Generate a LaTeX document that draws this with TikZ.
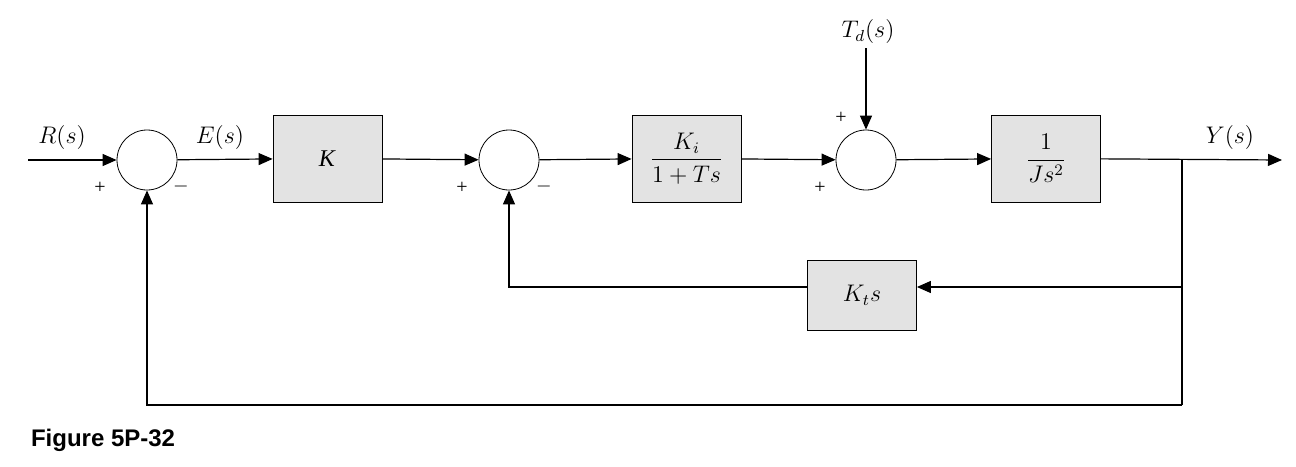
\documentclass[tikz,border=0pt]{standalone}
\usepackage{amsmath}
\usepackage{fontspec}
\setmainfont{Liberation Serif}
\newfontfamily\figfont{Liberation Sans}
\usetikzlibrary{arrows.meta}
\begin{document}
\begin{tikzpicture}[x=0.5pt,y=-0.5pt,
  blk/.style={draw,fill=black!11,minimum width=54.5pt,minimum height=43.5pt,inner sep=0pt,font=\large},
  sumj/.style={draw,circle,minimum size=30pt,inner sep=0pt},
  sig/.style={-{Triangle[length=7pt,width=6pt]},line width=0.6pt},
  ln/.style={line width=0.6pt},
  lbl/.style={font=\large}]
\useasboundingbox (0,0) rectangle (1296,466);
\node[sumj] (s1) at (147,160) {};
\node[sumj] (s2) at (509,160) {};
\node[sumj] (s3) at (866,160) {};
\node[blk] (K) at (327.5,158.5) {\textit{K}};
\node[blk] (G) at (686.5,158.5) {$\dfrac{K_i}{1+Ts}$};
\node[blk] (P) at (1046,158.5) {$\dfrac{1}{Js^2}$};
\node[blk,minimum height=35pt] (H) at (862,295) {$K_t s$};
\coordinate (in) at (28,160);
\coordinate (out) at (1282,160);
\coordinate (br) at (1182,160);
\coordinate (bh) at (1182,287);
\coordinate (bb) at (1182,405);
\coordinate (l1) at (147,405);
\coordinate (l2) at (509,287);
\coordinate (td) at (866,48);
\draw[sig] (in) -- (s1);
\draw[sig] (s1) -- (K);
\draw[sig] (K) -- (s2);
\draw[sig] (s2) -- (G);
\draw[sig] (G) -- (s3);
\draw[sig] (s3) -- (P);
\draw[sig] (P) -- (out);
\draw[sig] (td) -- (s3);
\draw[ln] (br) -- (bb);
\draw[sig] (bh) -- (H.east |- bh);
\draw[sig] (H.west |- bh) -- (l2) -- (s2.south);
\draw[sig] (bb) -- (l1) -- (s1.south);
\node[lbl] (R) at (62,137) {$R(s)$};
\node[lbl] (E) at (220,137) {$E(s)$};
\node[lbl] (Y) at (1230,137) {$Y(s)$};
\node[lbl] (T) at (868,32) {$T_d(s)$};
\node (p1) at (100,188) {+};
\node (m1) at (181,186) {$-$};
\node (p2) at (462,188) {+};
\node (m2) at (544,186) {$-$};
\node (p3) at (841,118) {+};
\node (p4) at (820,188) {+};
\node[font=\figfont\bfseries\large,anchor=west] (fig) at (24,440) {Figure 5P-32};
\end{tikzpicture}
\end{document}
